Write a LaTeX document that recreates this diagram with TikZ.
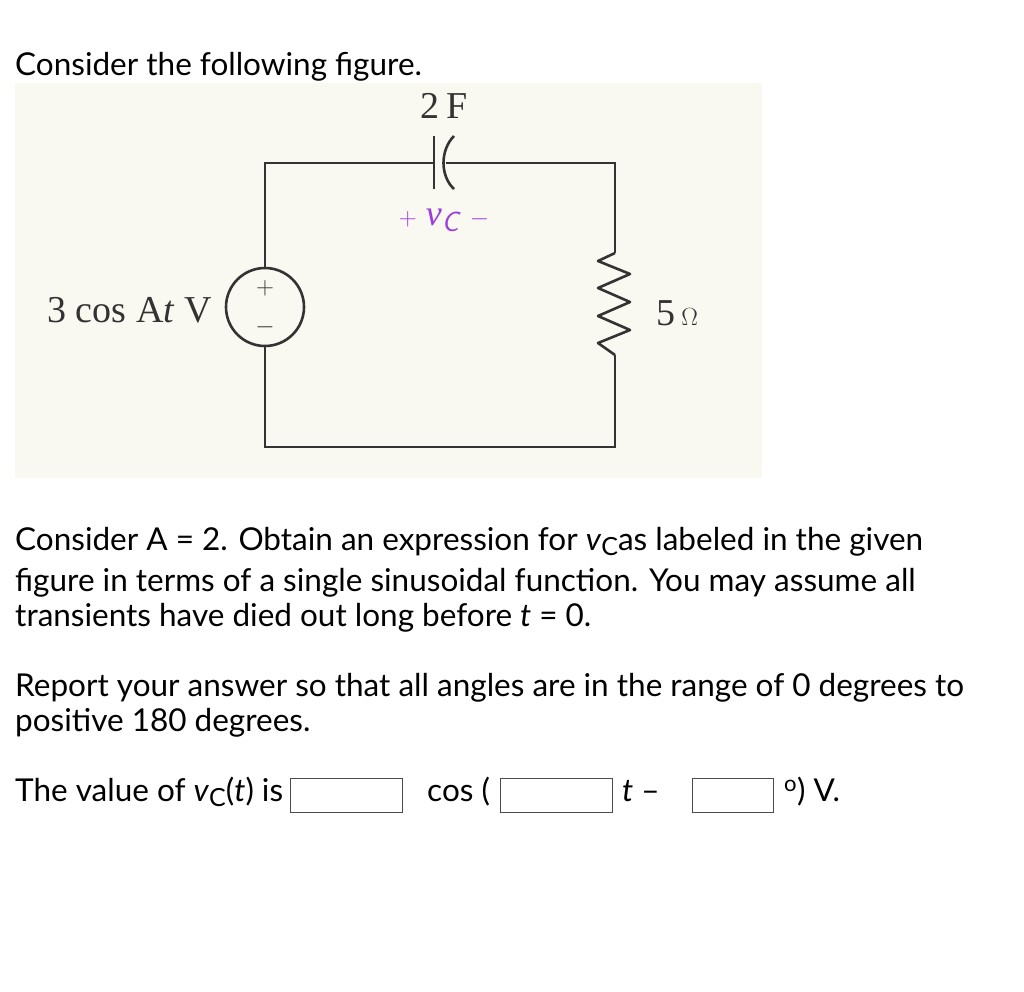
\documentclass[tikz,border=0pt]{standalone}
\usepackage{fontspec}
\setmainfont{Lato}
\newfontfamily\serifc{Liberation Serif}
\definecolor{bgc}{HTML}{FAF9F1}
\definecolor{vio}{HTML}{9B3BE0}
\definecolor{wire}{HTML}{333333}
\begin{document}
\begin{tikzpicture}[x=1pt,y=-1pt,
  txt/.style={anchor=base west,inner sep=0pt,font=\fontsize{31.5}{36}\selectfont},
  lab/.style={inner sep=0pt,font=\serifc\fontsize{38}{40}\selectfont,text=wire},
  wr/.style={draw=wire,line width=2.6pt},
  ansbox/.style={draw=black!70,line width=1pt,minimum width=112pt,minimum height=34pt,inner sep=0pt}]
\useasboundingbox (0,0) rectangle (1024,991);
\fill[white] (0,0) rectangle (1024,991);
\fill[bgc] (15,83) rectangle (762,478);
\node[txt] (t1) at (15,75) {Consider the following figure.};
% circuit
\coordinate (tl) at (265,163);
\coordinate (tr) at (615,163);
\coordinate (bl) at (265,447);
\coordinate (br) at (615,447);
\node[circle,draw=wire,line width=2.6pt,minimum size=78pt,inner sep=0pt] (src) at (265,307) {};
\node[font=\fontsize{26}{26}\selectfont,text=wire] (sp) at (265,288) {$+$};
\node[font=\fontsize{26}{26}\selectfont,text=wire] (sm) at (265,327) {$-$};
\coordinate (c1) at (434,163);
\coordinate (c2) at (446,163);
\coordinate (r1) at (615,253);
\coordinate (r2) at (615,355);
\draw[wr] (src.north) -- (tl) -- (c1);
\draw[wr] (434,136) -- (434,189);
\draw[wr] (454,136) .. controls (440,150) and (440,176) .. (454,189);
\draw[wr] (c2) -- (tr) -- (r1);
\draw[wr,line join=round] (r1) -- (598,261) -- (630,274) -- (598,288) -- (630,302) -- (598,316) -- (630,330) -- (598,343) -- (r2);
\draw[wr] (r2) -- (br) -- (bl) -- (src.south);
\node[lab] (lc) at (444,106) {2\,F};
\node[lab] (lr) at (677,313) {5\,$\Omega$};
\node[lab,anchor=east] (ls) at (212,310) {3 cos A\textit{t} V};
\node[inner sep=0pt,text=vio,font=\serifc\fontsize{36}{38}\selectfont] (lv) at (444,220) {$+$ \textit{v}\raisebox{-6pt}{\sffamily\fontsize{28}{28}\selectfont\textit{C}} $-$};
% text
\node[txt] (p1) at (15,550) {Consider A = 2. Obtain an expression for \textit{v}\raisebox{-5pt}{\fontsize{25}{25}\selectfont C}as labeled in the given};
\node[txt] (p2) at (15,591) {figure in terms of a single sinusoidal function. You may assume all};
\node[txt] (p3) at (15,626) {transients have died out long before \textit{t} = 0.};
\node[txt] (p4) at (15,696) {Report your answer so that all angles are in the range of 0 degrees to};
\node[txt] (p5) at (15,731) {positive 180 degrees.};
\node[txt] (p6) at (15,801) {The value of \textit{v}\raisebox{-5pt}{\fontsize{25}{25}\selectfont C}(\textit{t}) is};
\node[ansbox] (b1) at (346,795) {};
\node[txt] (p7) at (427,801) {cos (};
\node[ansbox] (b2) at (556,795) {};
\node[txt] (p8) at (622,801) {\textit{t} --};
\node[ansbox,minimum width=81pt] (b3) at (733,795) {};
\node[txt] (p9) at (784,801) {\textsuperscript{o}) V.};
\end{tikzpicture}
\end{document}
